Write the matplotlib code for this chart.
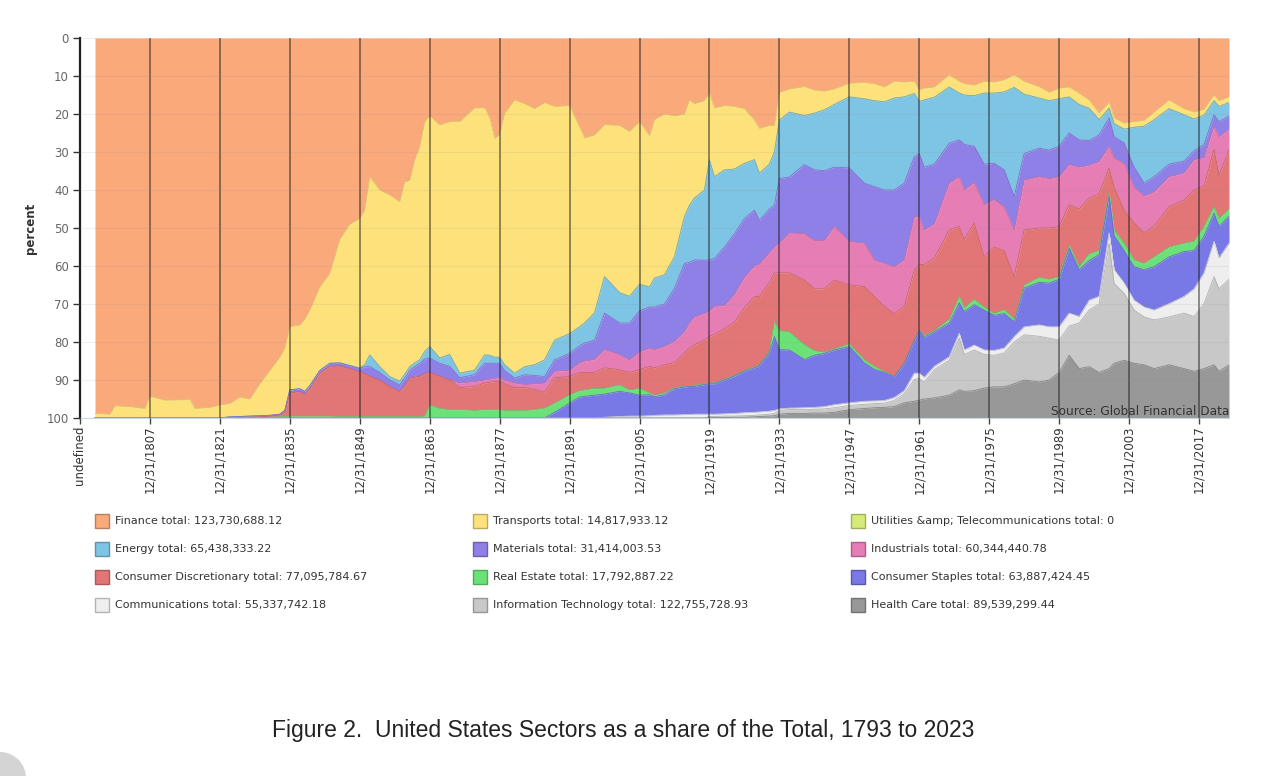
import matplotlib
matplotlib.use("Agg")
import matplotlib.pyplot as plt
from matplotlib.patches import Rectangle, Ellipse
from matplotlib.colors import to_rgb
import numpy as np

# year of each sample (12/31 of that year)
years = [1796, 1799, 1800, 1803, 1806, 1807, 1810, 1814, 1815, 1816, 1819, 1821,
         1823, 1825, 1827, 1829, 1831, 1833, 1834,
         1835, 1837, 1838, 1839, 1841, 1843, 1845, 1847, 1849, 1850, 1851, 1853, 1855, 1857, 1858, 1859, 1860, 1861, 1862,
         1863, 1865, 1867, 1869, 1872, 1874, 1875, 1876, 1877, 1878, 1880, 1882, 1884, 1886,
         1888, 1891, 1893, 1894, 1896, 1898, 1901, 1903, 1905, 1907, 1908, 1910, 1912, 1914, 1915, 1916, 1918, 1919, 1920, 1922, 1924, 1926, 1928, 1929, 1931, 1932,
         1933, 1935, 1938, 1940, 1942, 1944, 1947, 1950, 1952, 1954, 1956, 1958, 1960, 1961, 1962, 1964, 1967, 1969, 1970, 1972, 1974, 1976, 1978, 1980, 1982, 1985, 1987, 1989, 1991, 1993, 1995, 1997, 1999, 2000, 2002, 2004, 2006, 2008, 2011, 2014, 2016, 2018, 2020, 2021, 2023]

# lower edge of each sector's band, in percent (0 at the top of the chart, stacked downwards)
finance_edge = [98.8, 99.0, 96.8, 97.0, 97.5, 94.3, 95.3, 95.2, 95.0, 97.5, 97.2, 96.6,
                96.2, 94.5, 95.0, 91.0, 87.5, 84.0, 81.6,
                76.0, 75.5, 74.0, 71.6, 65.5, 62.0, 53.0, 49.0, 47.5, 45.3, 36.5, 40.0, 41.3, 43.1, 37.9, 37.5, 32.1, 28.6, 22.0,
                20.5, 22.9, 22.0, 22.0, 18.4, 18.4, 21.0, 26.4, 25.5, 19.8, 16.3, 17.3, 18.6, 17.0,
                18.0, 17.8, 23.4, 26.3, 25.5, 22.8, 23.0, 24.6, 22.0, 25.7, 21.5, 20.0, 20.5, 20.0, 16.3, 17.3, 16.5, 14.5, 18.4, 17.8, 18.0, 18.6, 21.6, 23.8, 23.0, 23.0,
                14.3, 13.4, 12.8, 13.7, 14.0, 13.4, 11.9, 11.7, 12.0, 12.9, 11.4, 11.6, 11.4, 13.6, 13.2, 12.9, 9.7, 11.4, 12.0, 12.4, 11.4, 11.6, 11.0, 9.7, 11.4, 12.8, 14.3, 13.2, 12.9, 14.5, 16.3, 19.8, 16.9, 21.0, 22.4, 22.0, 21.7, 19.5, 16.3, 18.6, 19.5, 18.8, 15.0, 16.5, 15.5]
transports_edge = [100] * 12 + \
               [99.7, 99.6, 99.5, 99.4, 99.3, 99.0, 98.0,
                92.6, 92.3, 93.0, 91.5, 87.5, 85.6, 85.5, 86.2, 86.8, 86.0, 83.4, 86.5, 89.1, 90.3, 88.5, 86.5, 85.5, 84.7, 82.5,
                81.2, 84.2, 83.3, 88.2, 87.4, 83.4, 83.5, 84.0, 84.0, 86.0, 88.2, 86.5, 86.0, 84.7,
                79.5, 77.8, 76.0, 75.0, 72.3, 62.8, 67.0, 68.0, 64.8, 65.5, 63.2, 62.3, 57.6, 47.0, 44.0, 42.1, 40.0, 32.1, 36.5, 34.7, 34.5, 33.0, 32.0, 35.6, 33.2, 30.0,
                21.6, 19.5, 20.4, 19.8, 18.9, 17.5, 15.5, 16.0, 16.5, 16.8, 15.8, 15.5, 14.6, 16.7, 16.3, 15.6, 12.9, 14.5, 15.0, 15.2, 14.5, 14.5, 14.2, 13.0, 14.8, 15.8, 16.5, 16.0, 15.5, 17.5, 18.5, 21.5, 18.5, 22.5, 24.0, 23.5, 23.2, 21.5, 18.6, 20.2, 21.3, 20.3, 16.5, 18.0, 17.0]
utilities_share = [0.0] * len(years)
energy_edge = [100] * 12 + \
               [99.7, 99.6, 99.5, 99.4, 99.3, 99.0, 98.0,
                92.6, 92.3, 93.0, 91.5, 87.5, 85.6, 85.5, 86.2, 87.0, 86.5, 86.5, 88.0, 90.0, 91.3, 89.5, 87.4, 86.5, 85.6, 84.5,
                84.2, 85.6, 86.4, 89.4, 88.6, 85.6, 85.6, 85.6, 85.6, 87.5, 89.5, 88.6, 88.8, 89.1,
                84.7, 83.0, 81.0, 80.3, 79.5, 72.4, 75.0, 75.0, 71.8, 70.8, 70.8, 70.0, 65.8, 59.3, 59.0, 58.4, 58.5, 58.4, 58.0, 55.0, 51.5, 47.5, 45.3, 48.0, 45.0, 44.0,
                37.0, 36.6, 33.3, 34.7, 34.9, 34.0, 34.2, 38.2, 39.1, 40.0, 40.0, 38.2, 31.2, 30.4, 34.0, 33.2, 27.7, 26.8, 28.0, 28.5, 33.2, 33.0, 34.7, 41.7, 30.4, 29.0, 29.5, 28.5, 25.0, 26.8, 27.0, 25.5, 21.0, 26.0, 27.6, 34.0, 38.2, 36.5, 33.2, 32.4, 29.7, 28.0, 20.2, 22.0, 20.5]
materials_edge = [100] * 12 + \
               [100, 99.9, 99.8, 99.7, 99.5, 99.2, 98.5,
                93.4, 93.0, 93.8, 92.3, 88.2, 86.4, 86.3, 87.0, 87.8, 88.3, 89.0, 90.0, 91.7, 93.0, 91.5, 89.5, 89.2, 89.0, 88.3,
                87.9, 89.0, 89.9, 90.8, 90.4, 90.0, 89.8, 89.5, 89.4, 90.0, 90.8, 91.2, 91.0, 90.8,
                87.7, 87.4, 85.5, 85.0, 84.6, 82.0, 83.3, 84.7, 82.6, 81.6, 82.0, 81.2, 79.8, 77.3, 75.0, 73.4, 72.5, 71.8, 70.6, 70.4, 67.5, 63.0, 60.0, 59.5, 56.5, 55.0,
                53.9, 51.3, 51.5, 53.3, 53.3, 49.6, 53.5, 54.0, 58.4, 59.3, 60.2, 58.4, 47.1, 47.0, 50.5, 48.9, 38.2, 36.5, 40.0, 38.0, 43.9, 42.5, 44.5, 50.5, 37.4, 36.5, 37.0, 36.5, 33.3, 34.0, 33.5, 32.5, 28.5, 31.6, 33.0, 39.2, 41.6, 40.5, 36.5, 35.5, 32.0, 31.5, 23.2, 26.0, 24.0]
industrials_edge = [100] * 12 + \
               [100, 99.9, 99.8, 99.7, 99.5, 99.2, 98.5,
                93.4, 93.0, 93.8, 92.3, 88.2, 86.4, 86.3, 87.0, 87.8, 88.3, 89.0, 90.0, 91.7, 93.0, 91.5, 89.5, 89.2, 89.0, 88.3,
                87.9, 89.0, 89.9, 92.0, 91.7, 90.8, 90.6, 90.4, 90.3, 91.0, 92.0, 92.0, 92.5, 93.2,
                89.4, 89.1, 88.0, 88.0, 88.0, 86.8, 87.3, 88.0, 87.3, 86.4, 86.8, 86.0, 85.4, 82.9, 81.5, 80.7, 79.5, 78.5, 78.0, 76.5, 74.8, 71.0, 68.0, 68.0, 64.4, 61.8,
                61.8, 61.8, 63.7, 66.0, 66.0, 63.7, 65.0, 65.4, 68.0, 70.6, 72.6, 70.6, 61.1, 59.6, 59.6, 57.9, 50.5, 49.6, 53.0, 48.7, 57.6, 55.0, 56.0, 62.8, 50.5, 50.0, 50.0, 49.6, 43.9, 45.0, 42.1, 41.0, 34.2, 39.2, 45.3, 48.7, 51.3, 49.5, 44.4, 42.7, 40.0, 39.0, 29.3, 36.1, 29.5]
discretionary_edge = [100] * 12 + \
               [100, 100, 100, 99.9, 99.8, 99.7, 99.6,
                99.5, 99.5, 99.5, 99.5, 99.5, 99.5, 99.6, 99.6, 99.6, 99.6, 99.6, 99.6, 99.6, 99.6, 99.6, 99.6, 99.6, 99.6, 99.5,
                96.6, 97.5, 97.8, 97.8, 98.0, 97.8, 97.8, 97.8, 97.8, 98.0, 98.0, 98.0, 97.8, 97.4,
                96.1, 93.9, 92.8, 92.6, 92.2, 92.2, 91.3, 92.6, 92.2, 93.4, 94.0, 93.4, 92.0, 91.6, 91.5, 91.4, 91.0, 90.8, 90.8, 89.8, 88.8, 87.5, 86.6, 86.0, 82.4, 74.7,
                77.0, 77.4, 80.7, 82.3, 82.7, 81.8, 80.5, 84.7, 86.4, 87.8, 89.0, 85.6, 79.5, 76.8, 78.4, 77.0, 74.0, 68.0, 71.0, 68.8, 70.8, 72.5, 71.5, 74.0, 65.0, 63.0, 63.5, 62.8, 54.5, 60.2, 56.8, 55.9, 40.8, 50.6, 54.0, 58.4, 59.3, 57.6, 55.0, 54.0, 53.5, 49.6, 44.4, 47.5, 45.0]
realestate_edge = [100] * 52 + \
               [98.5, 96.1, 94.5, 94.3, 94.0, 93.7, 93.0, 93.4, 94.0, 93.9, 94.4, 93.9, 92.3, 91.8, 91.7, 91.7, 91.2, 91.0, 91.0, 90.0, 89.0, 87.7, 86.8, 86.2, 82.8, 78.6,
                82.0, 82.1, 84.6, 83.5, 83.0, 82.1, 81.2, 85.5, 87.2, 88.0, 89.1, 85.7, 79.6, 77.0, 78.8, 77.3, 75.0, 69.7, 72.0, 70.2, 71.6, 73.0, 72.5, 74.7, 65.8, 64.3, 64.5, 63.5, 55.3, 61.0, 58.6, 57.0, 41.7, 52.0, 56.0, 60.2, 61.0, 60.2, 57.6, 56.2, 55.9, 52.2, 46.1, 49.6, 46.9]
staples_edge = [100] * 52 + \
               [100, 100, 100, 100, 100, 99.8, 99.6, 99.5, 99.5, 99.4, 99.3, 99.2, 99.2, 99.1, 99.1, 99.0, 99.0, 99.0, 99.0, 98.9, 98.8, 98.6, 98.5, 98.4, 98.2, 98.0,
                97.6, 97.4, 97.3, 97.2, 97.0, 96.5, 96.0, 95.6, 95.5, 95.4, 94.6, 92.8, 88.2, 88.2, 89.3, 86.4, 83.9, 77.7, 82.1, 80.8, 82.1, 82.2, 81.6, 78.6, 76.0, 75.5, 76.0, 76.0, 72.4, 73.3, 69.0, 68.0, 51.3, 61.0, 64.5, 69.0, 70.8, 71.6, 69.9, 68.0, 66.0, 61.8, 53.5, 57.9, 54.0]
comms_edge = [100] * 69 + \
               [99.6, 99.6, 99.5, 99.5, 99.4, 99.3, 99.2, 99.0, 98.8,
                98.0, 97.8, 97.8, 97.7, 97.6, 97.3, 96.7, 96.4, 96.2, 96.1, 95.4, 93.6, 89.9, 89.6, 90.6, 87.3, 84.8, 79.0, 83.3, 82.1, 83.3, 83.5, 82.9, 80.0, 78.1, 78.5, 79.0, 79.5, 75.8, 75.0, 71.6, 70.0, 54.0, 64.6, 67.2, 71.6, 73.4, 74.2, 73.4, 72.4, 73.3, 69.9, 62.8, 66.0, 63.5]
it_edge = [100] * 69 + \
               [99.9, 99.9, 99.9, 99.8, 99.8, 99.7, 99.6, 99.5, 99.4,
                99.0, 98.8, 98.8, 98.7, 98.7, 98.5, 97.8, 97.5, 97.3, 97.2, 97.0, 96.0, 95.6, 95.3, 95.0, 94.7, 94.0, 92.6, 93.0, 92.8, 92.1, 91.8, 91.8, 91.0, 90.0, 90.5, 90.0, 88.0, 83.5, 87.0, 86.5, 88.0, 87.0, 85.6, 84.8, 85.6, 86.0, 87.0, 86.0, 87.0, 87.7, 87.0, 86.0, 87.7, 86.0]
healthcare_edge = [100] * len(years)

sectors = ["Finance", "Transports", "Utilities &amp; Telecommunications",
           "Energy", "Materials", "Industrials",
           "Consumer Discretionary", "Real Estate", "Consumer Staples",
           "Communications", "Information Technology", "Health Care"]
totals = ["123,730,688.12", "14,817,933.12", "0",
          "65,438,333.22", "31,414,003.53", "60,344,440.78",
          "77,095,784.67", "17,792,887.22", "63,887,424.45",
          "55,337,742.18", "122,755,728.93", "89,539,299.44"]
colors = ["#f9a97a", "#fde27b", "#d6ea78",
          "#7ec4e4", "#8f80e8", "#e67db5",
          "#e27575", "#6ce178", "#7878e6",
          "#eeeeee", "#c8c8c8", "#989898"]

tick_years = list(range(1793, 2018, 14))
tick_labels = ["undefined"] + ["12/31/%d" % y for y in tick_years[1:]]


def darker(c, f=0.88):
    r, g, b = to_rgb(c)
    return (r * f, g * f, b * f)


def main():
    x = np.array(years)
    edges = [np.array(finance_edge), np.array(transports_edge),
             np.array(transports_edge) + np.array(utilities_share),
             np.array(energy_edge), np.array(materials_edge), np.array(industrials_edge),
             np.array(discretionary_edge), np.array(realestate_edge), np.array(staples_edge),
             np.array(comms_edge), np.array(it_edge), np.array(healthcare_edge)]

    fig = plt.figure(figsize=(12.8, 7.76), dpi=100)
    ax = fig.add_axes([80 / 1280, 1 - 418 / 776, (1229 - 80) / 1280, 380 / 776])

    top = np.zeros(len(x))
    for i, low in enumerate(edges):
        ax.fill_between(x, top, low, color=colors[i], lw=0, zorder=1)
        if i > 0:
            ax.plot(x, top, color=darker(colors[i]), lw=0.6, zorder=1.5)
        top = low

    ax.set_xlim(1793, 2023)
    ax.set_ylim(100, 0)
    ax.set_yticks(range(0, 101, 10))
    ax.set_xticks(tick_years)
    ax.set_xticklabels(tick_labels, rotation=90, fontsize=8.5, color="#333333")
    ax.tick_params(axis="y", labelsize=8.5, labelcolor="#666666", length=5, width=1, color="#333333", pad=3)
    ax.tick_params(axis="x", length=4, width=1, color="#444444", pad=1.5)

    ax.set_axisbelow(False)
    ax.xaxis.grid(True, color="#1a1a1a", alpha=0.6, lw=1.1)
    ax.yaxis.grid(True, color="#888888", alpha=0.12, lw=0.8)

    for s in ["top", "right"]:
        ax.spines[s].set_visible(False)
    ax.spines["left"].set_color("#222222")
    ax.spines["left"].set_linewidth(1.6)
    ax.spines["bottom"].set_color("#ccd6eb")

    ax.set_ylabel("percent", fontsize=8.5, fontweight="bold", color="#333333")
    ax.yaxis.set_label_coords(-0.037, 0.5)

    ax.text(2023, 98.2, "Source: Global Financial Data", ha="right", va="center",
            fontsize=8.7, color="#333333", zorder=6)

    # legend, three columns
    for i, name in enumerate(sectors):
        row, col = i // 3, i % 3
        px = 95 + col * 378
        py = 521 + row * 28
        fig.add_artist(Rectangle((px / 1280, 1 - (py + 7) / 776), 14 / 1280, 14 / 776,
                                 transform=fig.transFigure, facecolor=colors[i],
                                 edgecolor=darker(colors[i], 0.75), lw=1))
        fig.text((px + 20) / 1280, 1 - py / 776, "%s total: %s" % (name, totals[i]),
                 ha="left", va="center", fontsize=8, color="#333333")

    fig.text(623 / 1280, 1 - 731 / 776,
             "Figure 2.  United States Sectors as a share of the Total, 1793 to 2023",
             ha="center", va="center", fontsize=16.5, family="Liberation Sans", color="#222222")

    fig.add_artist(Ellipse((0 / 1280, 1 - 778 / 776), 52 / 1280, 52 / 776,
                           transform=fig.transFigure, facecolor="#d4d4d4", edgecolor="none"))

    fig.savefig("out.png", dpi=100)


if __name__ == '__main__':
    main()
